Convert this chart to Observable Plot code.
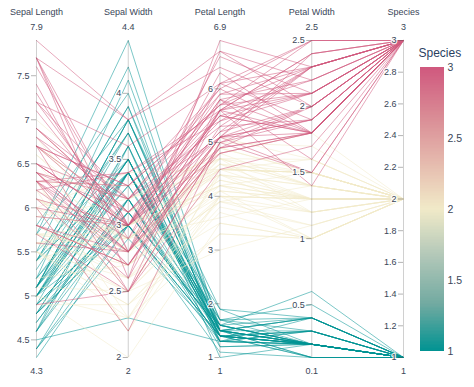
<!DOCTYPE html>
<html><head><meta charset="utf-8">
<script src="https://cdn.jsdelivr.net/npm/d3@7"></script>
<script src="https://cdn.jsdelivr.net/npm/@observablehq/plot@0.6"></script>
<style>
html,body{margin:0;padding:0;background:#fff;}
#chart{position:relative;width:474px;height:387px;font-family:"Liberation Sans",Arial,sans-serif;}
#chart > svg{position:absolute;left:0;top:0;}
#chart > svg.legend{left:410px;}
</style></head><body><div id="chart"></div>
<script>
const dimensions = ["Sepal Length","Sepal Width","Petal Length","Petal Width","Species"];

const sepalLength = [5.1,4.9,4.7,4.6,5.0,5.4,4.6,5.0,4.4,4.9,5.4,4.8,4.8,4.3,5.8,5.7,5.4,5.1,5.7,5.1,5.4,5.1,4.6,5.1,4.8,5.0,5.0,5.2,5.2,4.7,4.8,5.4,5.2,5.5,4.9,5.0,5.5,4.9,4.4,5.1,5.0,4.5,4.4,5.0,5.1,4.8,5.1,4.6,5.3,5.0,
7.0,6.4,6.9,5.5,6.5,5.7,6.3,4.9,6.6,5.2,5.0,5.9,6.0,6.1,5.6,6.7,5.6,5.8,6.2,5.6,5.9,6.1,6.3,6.1,6.4,6.6,6.8,6.7,6.0,5.7,5.5,5.5,5.8,6.0,5.4,6.0,6.7,6.3,5.6,5.5,5.5,6.1,5.8,5.0,5.6,5.7,5.7,6.2,5.1,5.7,
6.3,5.8,7.1,6.3,6.5,7.6,4.9,7.3,6.7,7.2,6.5,6.4,6.8,5.7,5.8,6.4,6.5,7.7,7.7,6.0,6.9,5.6,7.7,6.3,6.7,7.2,6.2,6.1,6.4,7.2,7.4,7.9,6.4,6.3,6.1,7.7,6.3,6.4,6.0,6.9,6.7,6.9,5.8,6.8,6.7,6.7,6.3,6.5,6.2,5.9];

const sepalWidth = [3.5,3.0,3.2,3.1,3.6,3.9,3.4,3.4,2.9,3.1,3.7,3.4,3.0,3.0,4.0,4.4,3.9,3.5,3.8,3.8,3.4,3.7,3.6,3.3,3.4,3.0,3.4,3.5,3.4,3.2,3.1,3.4,4.1,4.2,3.1,3.2,3.5,3.6,3.0,3.4,3.5,2.3,3.2,3.5,3.8,3.0,3.8,3.2,3.7,3.3,
3.2,3.2,3.1,2.3,2.8,2.8,3.3,2.4,2.9,2.7,2.0,3.0,2.2,2.9,2.9,3.1,3.0,2.7,2.2,2.5,3.2,2.8,2.5,2.8,2.9,3.0,2.8,3.0,2.9,2.6,2.4,2.4,2.7,2.7,3.0,3.4,3.1,2.3,3.0,2.5,2.6,3.0,2.6,2.3,2.7,3.0,2.9,2.9,2.5,2.8,
3.3,2.7,3.0,2.9,3.0,3.0,2.5,2.9,2.5,3.6,3.2,2.7,3.0,2.5,2.8,3.2,3.0,3.8,2.6,2.2,3.2,2.8,2.8,2.7,3.3,3.2,2.8,3.0,2.8,3.0,2.8,3.8,2.8,2.8,2.6,3.0,3.4,3.1,3.0,3.1,3.1,3.1,2.7,3.2,3.3,3.0,2.5,3.0,3.4,3.0];

const petalLength = [1.4,1.4,1.3,1.5,1.4,1.7,1.4,1.5,1.4,1.5,1.5,1.6,1.4,1.1,1.2,1.5,1.3,1.4,1.7,1.5,1.7,1.5,1.0,1.7,1.9,1.6,1.6,1.5,1.4,1.6,1.6,1.5,1.5,1.4,1.5,1.2,1.3,1.4,1.3,1.5,1.3,1.3,1.3,1.6,1.9,1.4,1.6,1.4,1.5,1.4,
4.7,4.5,4.9,4.0,4.6,4.5,4.7,3.3,4.6,3.9,3.5,4.2,4.0,4.7,3.6,4.4,4.5,4.1,4.5,3.9,4.8,4.0,4.9,4.7,4.3,4.4,4.8,5.0,4.5,3.5,3.8,3.7,3.9,5.1,4.5,4.5,4.7,4.4,4.1,4.0,4.4,4.6,4.0,3.3,4.2,4.2,4.2,4.3,3.0,4.1,
6.0,5.1,5.9,5.6,5.8,6.6,4.5,6.3,5.8,6.1,5.1,5.3,5.5,5.0,5.1,5.3,5.5,6.7,6.9,5.0,5.7,4.9,6.7,4.9,5.7,6.0,4.8,4.9,5.6,5.8,6.1,6.4,5.6,5.1,5.6,6.1,5.6,5.5,4.8,5.4,5.6,5.1,5.1,5.9,5.7,5.2,5.0,5.2,5.4,5.1];

const petalWidth = [0.2,0.2,0.2,0.2,0.2,0.4,0.3,0.2,0.2,0.1,0.2,0.2,0.1,0.1,0.2,0.4,0.4,0.3,0.3,0.3,0.2,0.4,0.2,0.5,0.2,0.2,0.4,0.2,0.2,0.2,0.2,0.4,0.1,0.2,0.2,0.2,0.2,0.1,0.2,0.2,0.3,0.3,0.2,0.6,0.4,0.3,0.2,0.2,0.2,0.2,
1.4,1.5,1.5,1.3,1.5,1.3,1.6,1.0,1.3,1.4,1.0,1.5,1.0,1.4,1.3,1.4,1.5,1.0,1.5,1.1,1.8,1.3,1.5,1.2,1.3,1.4,1.4,1.7,1.5,1.0,1.1,1.0,1.2,1.6,1.5,1.6,1.5,1.3,1.3,1.3,1.2,1.4,1.2,1.0,1.3,1.2,1.3,1.3,1.1,1.3,
2.5,1.9,2.1,1.8,2.2,2.1,1.7,1.8,1.8,2.5,2.0,1.9,2.1,2.0,2.4,2.3,1.8,2.2,2.3,1.5,2.3,2.0,2.0,1.8,2.1,1.8,1.8,1.8,2.1,1.6,1.9,2.0,2.2,1.5,1.4,2.3,2.4,1.8,1.8,2.1,2.4,2.3,1.9,2.3,2.5,2.3,1.9,2.0,2.3,1.8];

const species = [1,1,1,1,1,1,1,1,1,1,1,1,1,1,1,1,1,1,1,1,1,1,1,1,1,1,1,1,1,1,1,1,1,1,1,1,1,1,1,1,1,1,1,1,1,1,1,1,1,1,
2,2,2,2,2,2,2,2,2,2,2,2,2,2,2,2,2,2,2,2,2,2,2,2,2,2,2,2,2,2,2,2,2,2,2,2,2,2,2,2,2,2,2,2,2,2,2,2,2,2,
3,3,3,3,3,3,3,3,3,3,3,3,3,3,3,3,3,3,3,3,3,3,3,3,3,3,3,3,3,3,3,3,3,3,3,3,3,3,3,3,3,3,3,3,3,3,3,3,3,3];

const tickValues = [
  [4.5,5,5.5,6,6.5,7,7.5],
  [2,2.5,3,3.5,4],
  [1,2,3,4,5,6],
  [0.5,1,1.5,2,2.5],
  [1,1.2,1.4,1.6,1.8,2,2.2,2.4,2.6,2.8,3]
];
const legendTicks = [1,1.5,2,2.5,3];
const tealrose = ["rgb(0,147,146)","rgb(114,170,161)","rgb(177,199,184)","rgb(241,234,200)","rgb(229,185,173)","rgb(217,137,148)","rgb(208,88,126)"];

const columns = [sepalLength, sepalWidth, petalLength, petalWidth, species];
const extents = columns.map(c => d3.extent(c));
const norm = (d, v) => (v - extents[d][0]) / (extents[d][1] - extents[d][0]);

const lines = [];
species.forEach((s, i) => columns.forEach((col, d) => lines.push({id: i, d, v: norm(d, col[i]), species: s})));
const ticks = tickValues.flatMap((tv, d) => tv.map(t => ({d, v: norm(d, t), label: String(t)})));
const axes = dimensions.map((name, d) => ({d, name, top: String(extents[d][1]), bottom: String(extents[d][0])}));

const colorOpts = {type: "linear", domain: [1, 3], interpolate: d3.piecewise(d3.interpolateRgb, tealrose)};
const textColor = "#3a4658";
const font = {fontFamily: "'Liberation Sans', Arial, sans-serif", background: "transparent", overflow: "visible"};

const main = Plot.plot({
  width: 474, height: 387,
  marginLeft: 36, marginRight: 71, marginTop: 40, marginBottom: 30,
  x: {domain: [0, 4], axis: null},
  y: {domain: [0, 1], axis: null},
  color: colorOpts,
  style: font,
  marks: [
    Plot.line(lines, {x: "d", y: "v", z: "id", stroke: "species", strokeWidth: 0.8, strokeOpacity: 0.65}),
    Plot.ruleX(axes, {x: "d", y1: 0, y2: 1, stroke: "#444", strokeOpacity: 0.25}),
    Plot.ruleY(ticks, {y: "v", x1: "d", x2: "d", insetLeft: -5, stroke: "#444", strokeOpacity: 0.4}),
    Plot.text(ticks, {x: "d", y: "v", text: "label", textAnchor: "end", dx: -7, fontSize: 9, fill: textColor, stroke: "white", strokeWidth: 2.5, strokeOpacity: 0.85}),
    Plot.text(axes, {x: "d", text: "name", frameAnchor: "top", lineAnchor: "middle", dy: -28, fontSize: 9, fill: textColor}),
    Plot.text(axes, {x: "d", text: "top", frameAnchor: "top", lineAnchor: "middle", dy: -13, fontSize: 9, fill: textColor}),
    Plot.text(axes, {x: "d", text: "bottom", frameAnchor: "bottom", lineAnchor: "middle", dy: 14, fontSize: 9, fill: textColor})
  ]
});

const steps = d3.range(0, 200).map(k => ({a: 1 + k * 0.01, b: 1 + (k + 1) * 0.01, m: 1 + (k + 0.5) * 0.01}));
const legend = Plot.plot({
  width: 64, height: 387,
  marginLeft: 10, marginRight: 30, marginTop: 67, marginBottom: 36,
  x: {domain: [0, 1], axis: null},
  y: {domain: [1, 3], axis: null},
  color: colorOpts,
  style: font,
  marks: [
    Plot.rect(steps, {x1: 0, x2: 1, y1: "a", y2: "b", fill: "m", shapeRendering: "crispEdges"}),
    Plot.axisY({anchor: "right", ticks: legendTicks, tickSize: 0, tickPadding: 3, fontSize: 10.5, fill: textColor, tickFormat: d => String(d)}),
    Plot.text(["Species"], {frameAnchor: "top-left", lineAnchor: "middle", textAnchor: "start", dx: -2, dy: -14, fontSize: 12, fill: "#2a3f5f"})
  ]
});
legend.classList.add("legend");

const chart = document.getElementById("chart");
chart.appendChild(main);
chart.appendChild(legend);
</script>
</body></html>
